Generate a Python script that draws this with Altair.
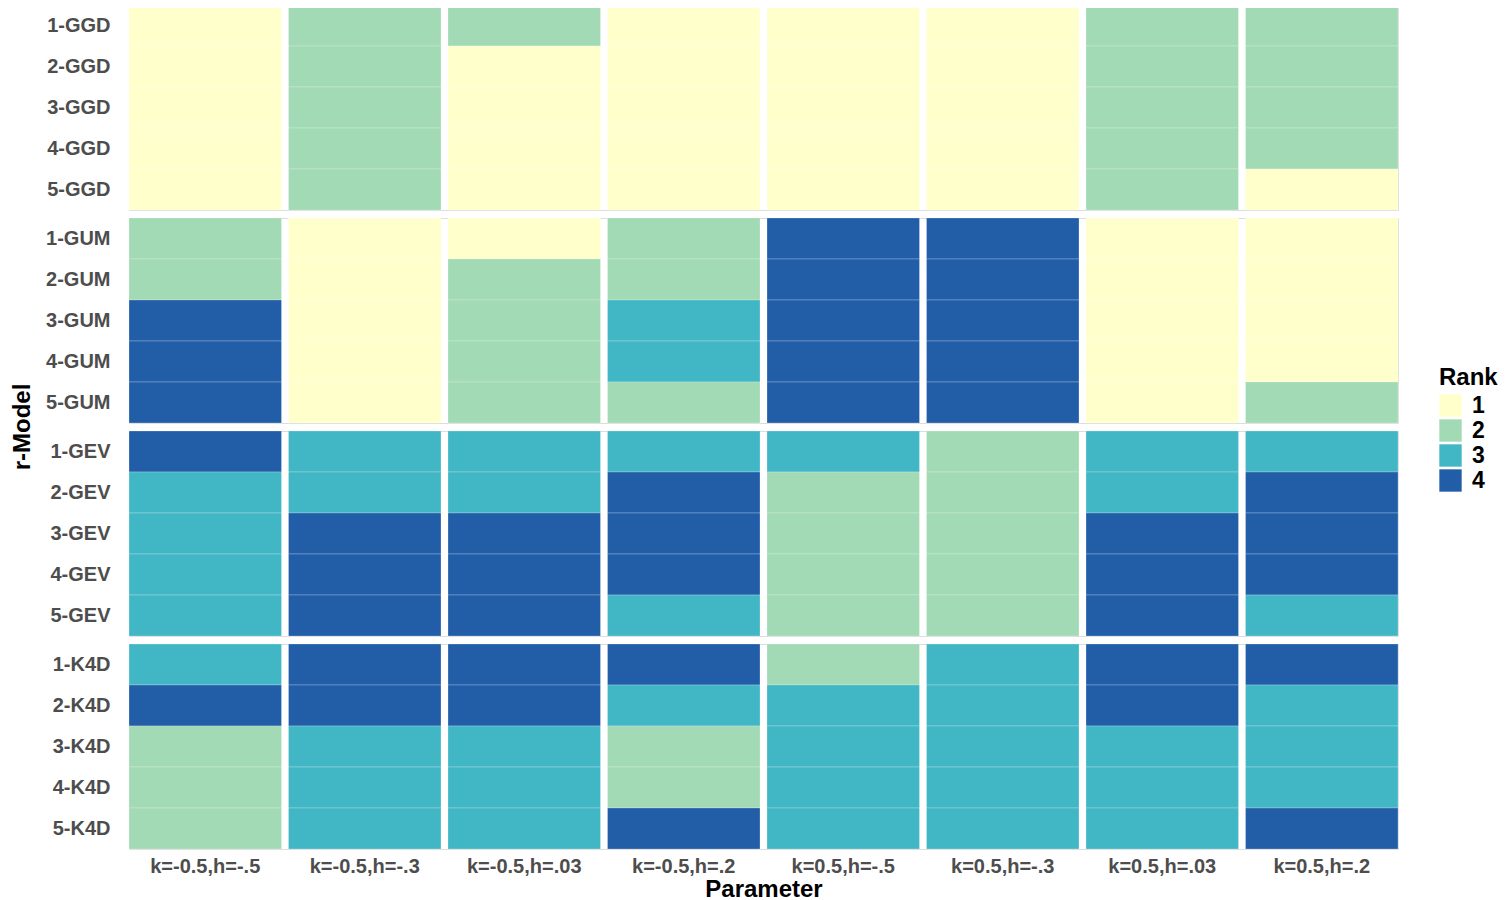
import altair as alt
import pandas as pd

parameters = ["k=-0.5,h=-.5", "k=-0.5,h=-.3", "k=-0.5,h=.03", "k=-0.5,h=.2",
              "k=0.5,h=-.5", "k=0.5,h=-.3", "k=0.5,h=.03", "k=0.5,h=.2"]
groups = ["GGD", "GUM", "GEV", "K4D"]
r_values = [1, 2, 3, 4, 5]

# ranks per parameter column, rows: 1..5-GGD, 1..5-GUM, 1..5-GEV, 1..5-K4D
rank_k05n_h05n = [1, 1, 1, 1, 1, 2, 2, 4, 4, 4, 4, 3, 3, 3, 3, 3, 4, 2, 2, 2]
rank_k05n_h03n = [2, 2, 2, 2, 2, 1, 1, 1, 1, 1, 3, 3, 4, 4, 4, 4, 4, 3, 3, 3]
rank_k05n_h003 = [2, 1, 1, 1, 1, 1, 2, 2, 2, 2, 3, 3, 4, 4, 4, 4, 4, 3, 3, 3]
rank_k05n_h02 = [1, 1, 1, 1, 1, 2, 2, 3, 3, 2, 3, 4, 4, 4, 3, 4, 3, 2, 2, 4]
rank_k05_h05n = [1, 1, 1, 1, 1, 4, 4, 4, 4, 4, 3, 2, 2, 2, 2, 2, 3, 3, 3, 3]
rank_k05_h03n = [1, 1, 1, 1, 1, 4, 4, 4, 4, 4, 2, 2, 2, 2, 2, 3, 3, 3, 3, 3]
rank_k05_h003 = [2, 2, 2, 2, 2, 1, 1, 1, 1, 1, 3, 3, 4, 4, 4, 4, 4, 3, 3, 3]
rank_k05_h02 = [2, 2, 2, 2, 1, 1, 1, 1, 1, 2, 3, 4, 4, 4, 3, 4, 3, 3, 3, 4]

rank_columns = [rank_k05n_h05n, rank_k05n_h03n, rank_k05n_h003, rank_k05n_h02,
                rank_k05_h05n, rank_k05_h03n, rank_k05_h003, rank_k05_h02]

rank_levels = ["1", "2", "3", "4"]
rank_colors = ["#FFFFCC", "#A1DAB4", "#41B6C4", "#225EA8"]

rows = []
for param, ranks in zip(parameters, rank_columns):
    i = 0
    for g in groups:
        for r in r_values:
            rows.append({"Parameter": param, "group": g,
                         "model": f"{r}-{g}", "order": r,
                         "Rank": str(ranks[i])})
            i += 1
df = pd.DataFrame(rows)

FONT = "Liberation Sans"

base = alt.Chart(df).mark_rect(stroke="white", strokeWidth=0.4, strokeOpacity=0.6).encode(
    x=alt.X("Parameter:N", sort=parameters,
            scale=alt.Scale(paddingInner=0.044, paddingOuter=0),
            axis=alt.Axis(title="Parameter", labelAngle=0, ticks=False, domain=False,
                          labelFont=FONT, labelFontSize=20, labelFontWeight="bold",
                          labelColor="#4D4D4D", labelPadding=6,
                          titleFont=FONT, titleFontSize=24, titleFontWeight="bold",
                          titleColor="black", titlePadding=1)),
    y=alt.Y("model:N", sort=alt.EncodingSortField(field="order", order="ascending"),
            scale=alt.Scale(paddingInner=0, paddingOuter=0),
            axis=alt.Axis(title=None, ticks=False, domain=False,
                          labelFont=FONT, labelFontSize=20, labelFontWeight="bold",
                          labelColor="#4D4D4D", labelPadding=19)),
    color=alt.Color("Rank:N", scale=alt.Scale(domain=rank_levels, range=rank_colors),
                    legend=alt.Legend(title="Rank", orient="none", legendX=1310, legendY=361,
                                      titleFont=FONT, titleFontSize=24, titleFontWeight="bold",
                                      titleColor="black", labelFont=FONT, labelFontSize=23,
                                      labelFontWeight="bold", labelColor="black",
                                      symbolType="square", symbolSize=500, symbolStrokeWidth=0,
                                      symbolOpacity=1, rowPadding=1, labelOffset=10,
                                      titlePadding=4)),
).properties(width=1269, height=205)

chart = base.facet(
    row=alt.Row("group:N", sort=groups,
                header=alt.Header(labels=False, title="r-Model", titleFont=FONT,
                                  titleFontSize=24, titleFontWeight="bold",
                                  titleColor="black", titlePadding=0)),
    spacing=6,
).resolve_scale(y="independent").properties(
    padding={"left": 2, "top": -4, "right": 0, "bottom": 0}
).configure_view(stroke=None).configure(background="white")

chart.save("out.html", embed_options={"renderer": "svg", "actions": False})
